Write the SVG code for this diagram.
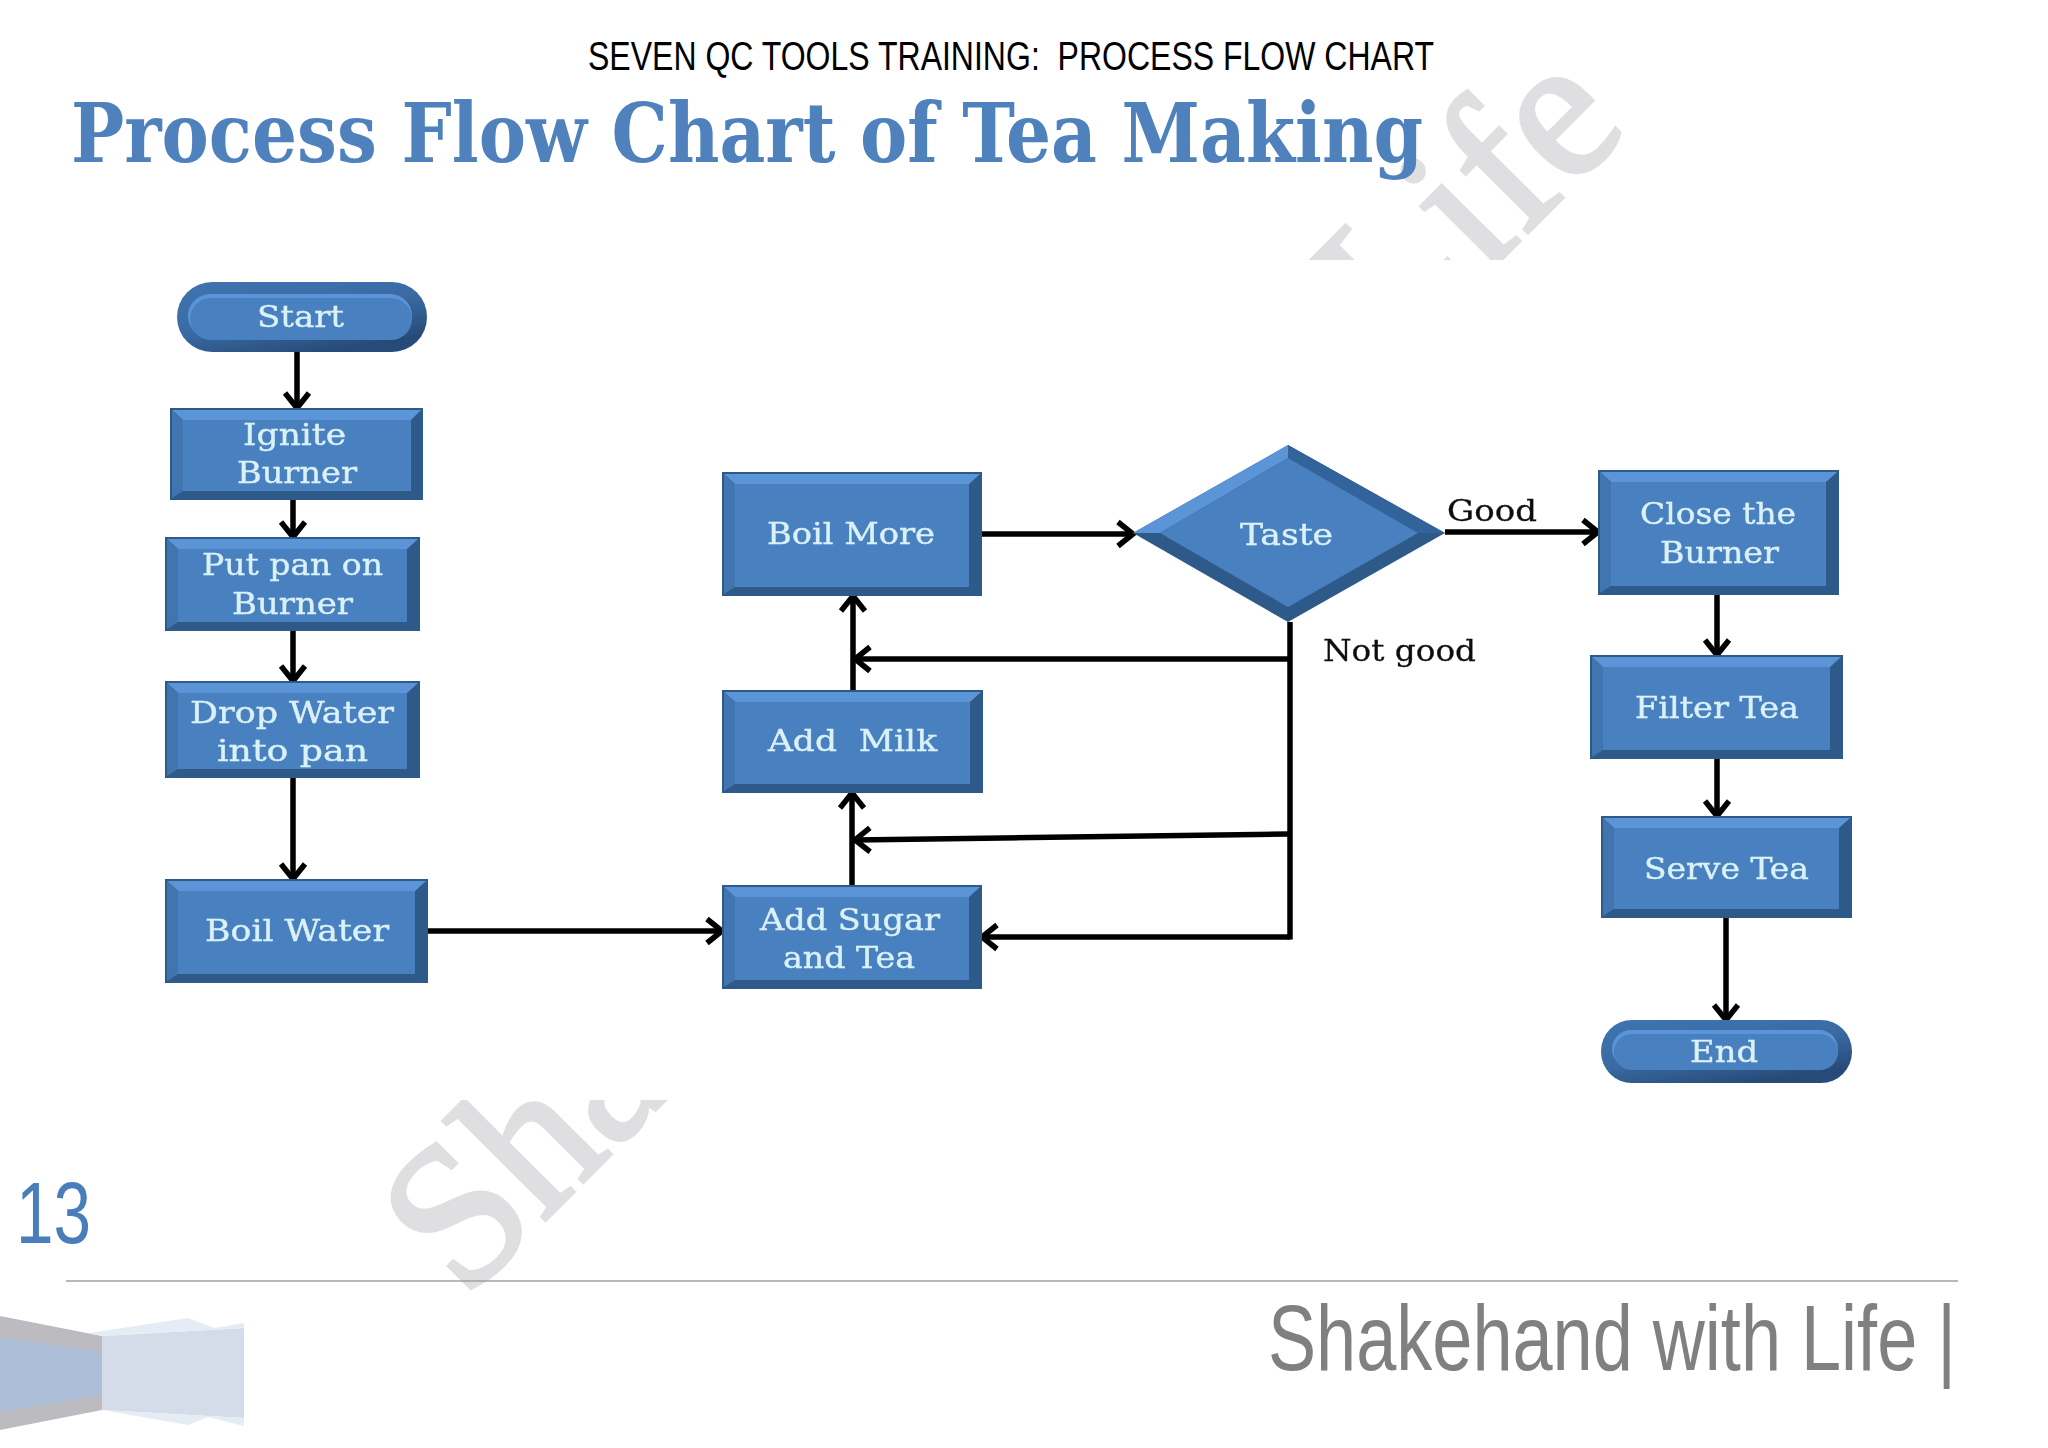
<svg xmlns="http://www.w3.org/2000/svg" width="2048" height="1448" viewBox="0 0 2048 1448">
<style>
.o{fill:#2f5a8a}.t{fill:#5c94d8}.l{fill:#3f74b0}.i{fill:#4a80c0}.r{fill:#33639a}
.g{fill:url(#pill)}
.n{font-family:"DejaVu Serif","Liberation Serif",serif;font-size:30px;fill:#d9f1f7;stroke:#d9f1f7;stroke-width:.4}
.k{font-family:"DejaVu Serif","Liberation Serif",serif;font-size:30px;fill:#111;stroke:#111;stroke-width:.3}
.c{fill:none;stroke:#000;stroke-width:5.5;marker-end:url(#a)}
.p{fill:none;stroke:#000;stroke-width:5.5}
.s{font-family:"Liberation Sans",Arial,sans-serif}
.b{filter:url(#soft)}
</style>
<defs>
<marker id="a" markerUnits="userSpaceOnUse" markerWidth="36" markerHeight="36" refX="0" refY="0" viewBox="-22 -18 36 36" orient="auto" overflow="visible">
<path d="M-15 -12L0 0L-15 12" fill="none" stroke="#000" stroke-width="5.500"/>
</marker>
<linearGradient id="pill" x1="0" y1="0" x2="0.6" y2="1"><stop offset="0" stop-color="#3f74b0"/><stop offset="0.55" stop-color="#3a6ba4"/><stop offset="1" stop-color="#274b78"/></linearGradient>
<filter id="soft" x="-2%" y="-2%" width="104%" height="104%"><feGaussianBlur stdDeviation="0.7"/></filter>
</defs>
<rect width="2048" height="1448" fill="#fff"/>
<g id="watermark">
<text transform="translate(465 1301) rotate(-45.15)" font-family="Liberation Serif, serif" font-size="205" fill="#dfdfe2" stroke="#dfdfe2" stroke-width="4" textLength="1653" lengthAdjust="spacingAndGlyphs">Shakehand with Life</text>
<rect x="130" y="260" width="1850" height="840" fill="#fff"/>
</g>
<g id="header">
<text class="s" x="588" y="70" font-size="40" fill="#000" textLength="846" lengthAdjust="spacingAndGlyphs" xml:space="preserve">SEVEN QC TOOLS TRAINING:  PROCESS FLOW CHART</text>
<text x="71" y="162" font-family="DejaVu Serif, serif" font-stretch="condensed" font-weight="bold" font-size="82" fill="#4f81bd" textLength="1352" lengthAdjust="spacingAndGlyphs">Process Flow Chart of Tea Making</text>
</g>
<g id="connectors" class="b">
<path class="c" d="M297 350V408"/>
<path class="c" d="M293 497V537"/>
<path class="c" d="M293 631V681"/>
<path class="c" d="M293 778V879"/>
<path class="c" d="M428 931H722"/>
<path class="c" d="M852 885V793"/>
<path class="c" d="M853 690V596"/>
<path class="c" d="M982 534H1133"/>
<path class="c" d="M1445 532H1598"/>
<path class="p" d="M1290 622V939.500"/>
<path class="c" d="M1290 937H982"/>
<path class="c" d="M1290 659H855"/>
<path class="c" d="M1290 834L855 840"/>
<path class="c" d="M1717 595V655"/>
<path class="c" d="M1717 759V816"/>
<path class="c" d="M1726 918V1020"/>
</g>
<g id="start" class="b">
<rect class="g" x="177" y="282" width="250" height="70" rx="35"/>
<rect class="t" x="188" y="294" width="224" height="44" rx="22"/>
<rect class="i" x="190" y="298" width="222" height="42" rx="21"/>
<text class="n" x="257" y="327" textLength="87" lengthAdjust="spacingAndGlyphs">Start</text>
</g>
<g id="ignite" class="b">
<rect class="o" x="170" y="408" width="253" height="92"/>
<polygon class="t" points="172,410 421,410 411,420 183,420"/>
<polygon class="l" points="172,410 183,420 183,491 172,498"/>
<rect class="i" x="183" y="420" width="228" height="71"/>
<text class="n" x="243" y="445" textLength="103" lengthAdjust="spacingAndGlyphs">Ignite</text>
<text class="n" x="237" y="483" textLength="120" lengthAdjust="spacingAndGlyphs">Burner</text>
</g>
<g id="putpan" class="b" transform="translate(-1 -2)">
<rect class="o" x="166" y="539" width="255" height="94"/>
<polygon class="t" points="168,541 419,541 408,551 179,551"/>
<polygon class="l" points="168,541 179,551 179,624 168,631"/>
<rect class="i" x="179" y="551" width="229" height="73"/>
<text class="n" x="203" y="577" textLength="181" lengthAdjust="spacingAndGlyphs">Put pan on</text>
<text class="n" x="233" y="616" textLength="121" lengthAdjust="spacingAndGlyphs">Burner</text>
</g>
<g id="drop" class="b" transform="translate(-1 -2)">
<rect class="o" x="166" y="683" width="255" height="97"/>
<polygon class="t" points="168,685 419,685 408,695 179,695"/>
<polygon class="l" points="168,685 179,695 179,771 168,778"/>
<rect class="i" x="179" y="695" width="229" height="76"/>
<text class="n" x="191" y="725" textLength="204" lengthAdjust="spacingAndGlyphs">Drop Water</text>
<text class="n" x="218" y="763" textLength="151" lengthAdjust="spacingAndGlyphs">into  pan</text>
</g>
<g id="boilwater" class="b" transform="translate(-1 -3)">
<rect class="o" x="166" y="882" width="263" height="104"/>
<polygon class="t" points="168,884 427,884 416,894 179,894"/>
<polygon class="l" points="168,884 179,894 179,977 168,984"/>
<rect class="i" x="179" y="894" width="237" height="83"/>
<text class="n" x="206" y="944" textLength="184" lengthAdjust="spacingAndGlyphs">Boil Water</text>
</g>
<g id="addsugar" class="b" transform="translate(-3 -4)">
<rect class="o" x="725" y="889" width="260" height="104"/>
<polygon class="t" points="727,891 983,891 972,901 738,901"/>
<polygon class="l" points="727,891 738,901 738,984 727,991"/>
<rect class="i" x="738" y="901" width="234" height="83"/>
<text class="n" x="763" y="934" textLength="180" lengthAdjust="spacingAndGlyphs">Add Sugar</text>
<text class="n" x="786" y="972" textLength="132" lengthAdjust="spacingAndGlyphs">and Tea</text>
</g>
<g id="addmilk" class="b" transform="translate(-3 -3)">
<rect class="o" x="725" y="693" width="261" height="103"/>
<polygon class="t" points="727,695 984,695 973,705 738,705"/>
<polygon class="l" points="727,695 738,705 738,787 727,794"/>
<rect class="i" x="738" y="705" width="235" height="82"/>
<text class="n" x="771" y="754" textLength="169" lengthAdjust="spacingAndGlyphs" xml:space="preserve">Add  Milk</text>
</g>
<g id="boilmore" class="b" transform="translate(-3 -2)">
<rect class="o" x="725" y="474" width="260" height="124"/>
<polygon class="t" points="727,476 983,476 972,486 738,486"/>
<polygon class="l" points="727,476 738,486 738,589 727,596"/>
<rect class="i" x="738" y="486" width="234" height="103"/>
<text class="n" x="770" y="546" textLength="168" lengthAdjust="spacingAndGlyphs">Boil More</text>
</g>
<g id="taste" class="b">
<polygon class="o" points="1133,533 1288,445 1445,533 1288,622"/>
<polygon class="t" points="1133,533 1288,445 1288,458 1160,533"/>
<polygon class="r" points="1288,445 1445,533 1418,533 1288,458"/>
<polygon class="i" points="1160,533 1288,458 1418,533 1288,607"/>
<text class="n" x="1240" y="545" textLength="93" lengthAdjust="spacingAndGlyphs">Taste</text>
</g>
<g id="labels" class="b">
<text class="k" x="1447" y="521" textLength="90" lengthAdjust="spacingAndGlyphs">Good</text>
<text class="k" x="1323" y="661" textLength="153" lengthAdjust="spacingAndGlyphs">Not good</text>
</g>
<g id="close" class="b" transform="translate(-7 -2)">
<rect class="o" x="1605" y="472" width="241" height="125"/>
<polygon class="t" points="1607,474 1844,474 1833,484 1618,484"/>
<polygon class="l" points="1607,474 1618,484 1618,588 1607,595"/>
<rect class="i" x="1618" y="484" width="215" height="104"/>
<text class="n" x="1647" y="526" textLength="156" lengthAdjust="spacingAndGlyphs">Close the</text>
<text class="n" x="1667" y="565" textLength="119" lengthAdjust="spacingAndGlyphs">Burner</text>
</g>
<g id="filter" class="b" transform="translate(-7 -3)">
<rect class="o" x="1597" y="658" width="253" height="104"/>
<polygon class="t" points="1599,660 1848,660 1837,670 1610,670"/>
<polygon class="l" points="1599,660 1610,670 1610,753 1599,760"/>
<rect class="i" x="1610" y="670" width="227" height="83"/>
<text class="n" x="1642" y="721" textLength="164" lengthAdjust="spacingAndGlyphs">Filter Tea</text>
</g>
<g id="serve" class="b" transform="translate(-7 -4)">
<rect class="o" x="1608" y="820" width="251" height="102"/>
<polygon class="t" points="1610,822 1857,822 1846,832 1621,832"/>
<polygon class="l" points="1610,822 1621,832 1621,913 1610,920"/>
<rect class="i" x="1621" y="832" width="225" height="81"/>
<text class="n" x="1651" y="883" textLength="165" lengthAdjust="spacingAndGlyphs">Serve Tea</text>
</g>
<g id="end" class="b" transform="translate(-7 -4)">
<rect class="g" x="1608" y="1024" width="251" height="63" rx="31"/>
<rect class="t" x="1619" y="1034" width="226" height="38" rx="19"/>
<rect class="i" x="1621" y="1038" width="224" height="36" rx="18"/>
<text class="n" x="1697" y="1066" textLength="68" lengthAdjust="spacingAndGlyphs">End</text>
</g>
<g id="footer">
<text class="s" x="16" y="1243" font-size="88" fill="#4a7ebb" textLength="75" lengthAdjust="spacingAndGlyphs">13</text>
<line x1="66" y1="1281" x2="1958" y2="1281" stroke="#a0a0a0" stroke-width="1.5"/>
<text class="s" x="1268" y="1370" font-size="93" fill="#808080" textLength="688" lengthAdjust="spacingAndGlyphs">Shakehand with Life |</text>
<polygon points="0,1316 102,1336 102,1410 0,1430" fill="#bcbcc0"/>
<polygon points="0,1337 102,1352 102,1395 0,1412" fill="#adbfd8"/>
<polygon points="102,1336 244,1328 244,1418 102,1410" fill="#d4dce9"/>
<polygon points="89,1333 188,1318 214,1328 244,1323 244,1328 102,1336" fill="#e6ecf5"/>
<polygon points="102,1410 188,1425 208,1417 244,1426 244,1418" fill="#e6ecf5"/>
</g>
</svg>
